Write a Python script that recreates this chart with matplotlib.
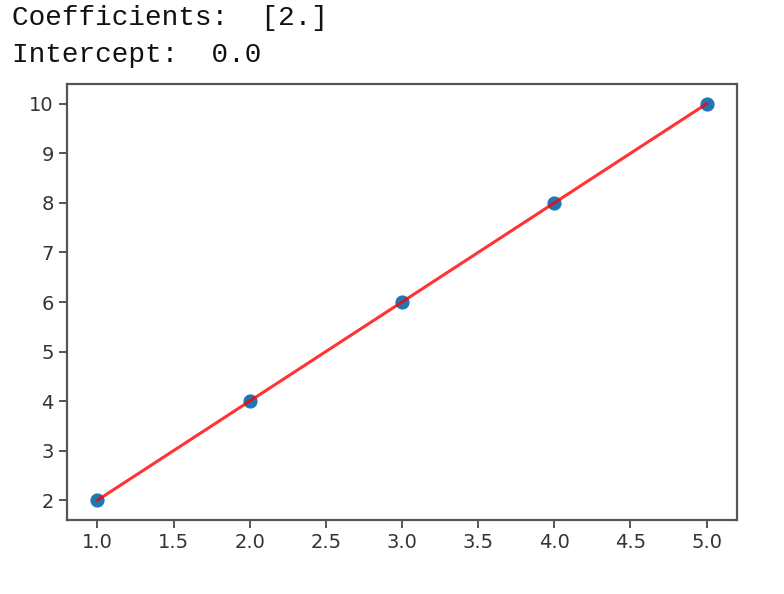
import numpy as np
import matplotlib
matplotlib.use("Agg")
import matplotlib.pyplot as plt

# data: simple linear fit y = 2x
x_vals = [1, 2, 3, 4, 5]
y_vals = [2, 4, 6, 8, 10]
coef = [2.0]
intercept = 0.0

x = np.array(x_vals, dtype=float)
y = np.array(y_vals, dtype=float)
y_pred = coef[0] * x + intercept

fig = plt.figure(figsize=(7.84, 5.94), dpi=100)

# notebook-style printed output above the plot
mono = ["Liberation Mono", "DejaVu Sans Mono"]
fig.text(12 / 784, 1 - 18 / 594, "Coefficients:  [2.]", family=mono,
         fontsize=20, va="center", ha="left", color="#111111")
fig.text(12 / 784, 1 - 55 / 594, f"Intercept:  {intercept}", family=mono,
         fontsize=20, va="center", ha="left", color="#111111")

ax = fig.add_axes([67 / 784, 1 - 520 / 594, 670 / 784, 436 / 594])
ax.scatter(x, y, s=85, color="#1f77b4", zorder=2)
ax.plot(x, y_pred, color="red", alpha=0.8, lw=2.2, zorder=3)

ax.set_xticks(np.arange(1.0, 5.01, 0.5))
ax.set_yticks(range(2, 11))
for sp in ax.spines.values():
    sp.set_color("#555555")
    sp.set_linewidth(1.6)
ax.tick_params(colors="#555555", length=6, width=1.4, labelsize=14,
               labelcolor="#333333")

fig.savefig("out.png", dpi=100)
